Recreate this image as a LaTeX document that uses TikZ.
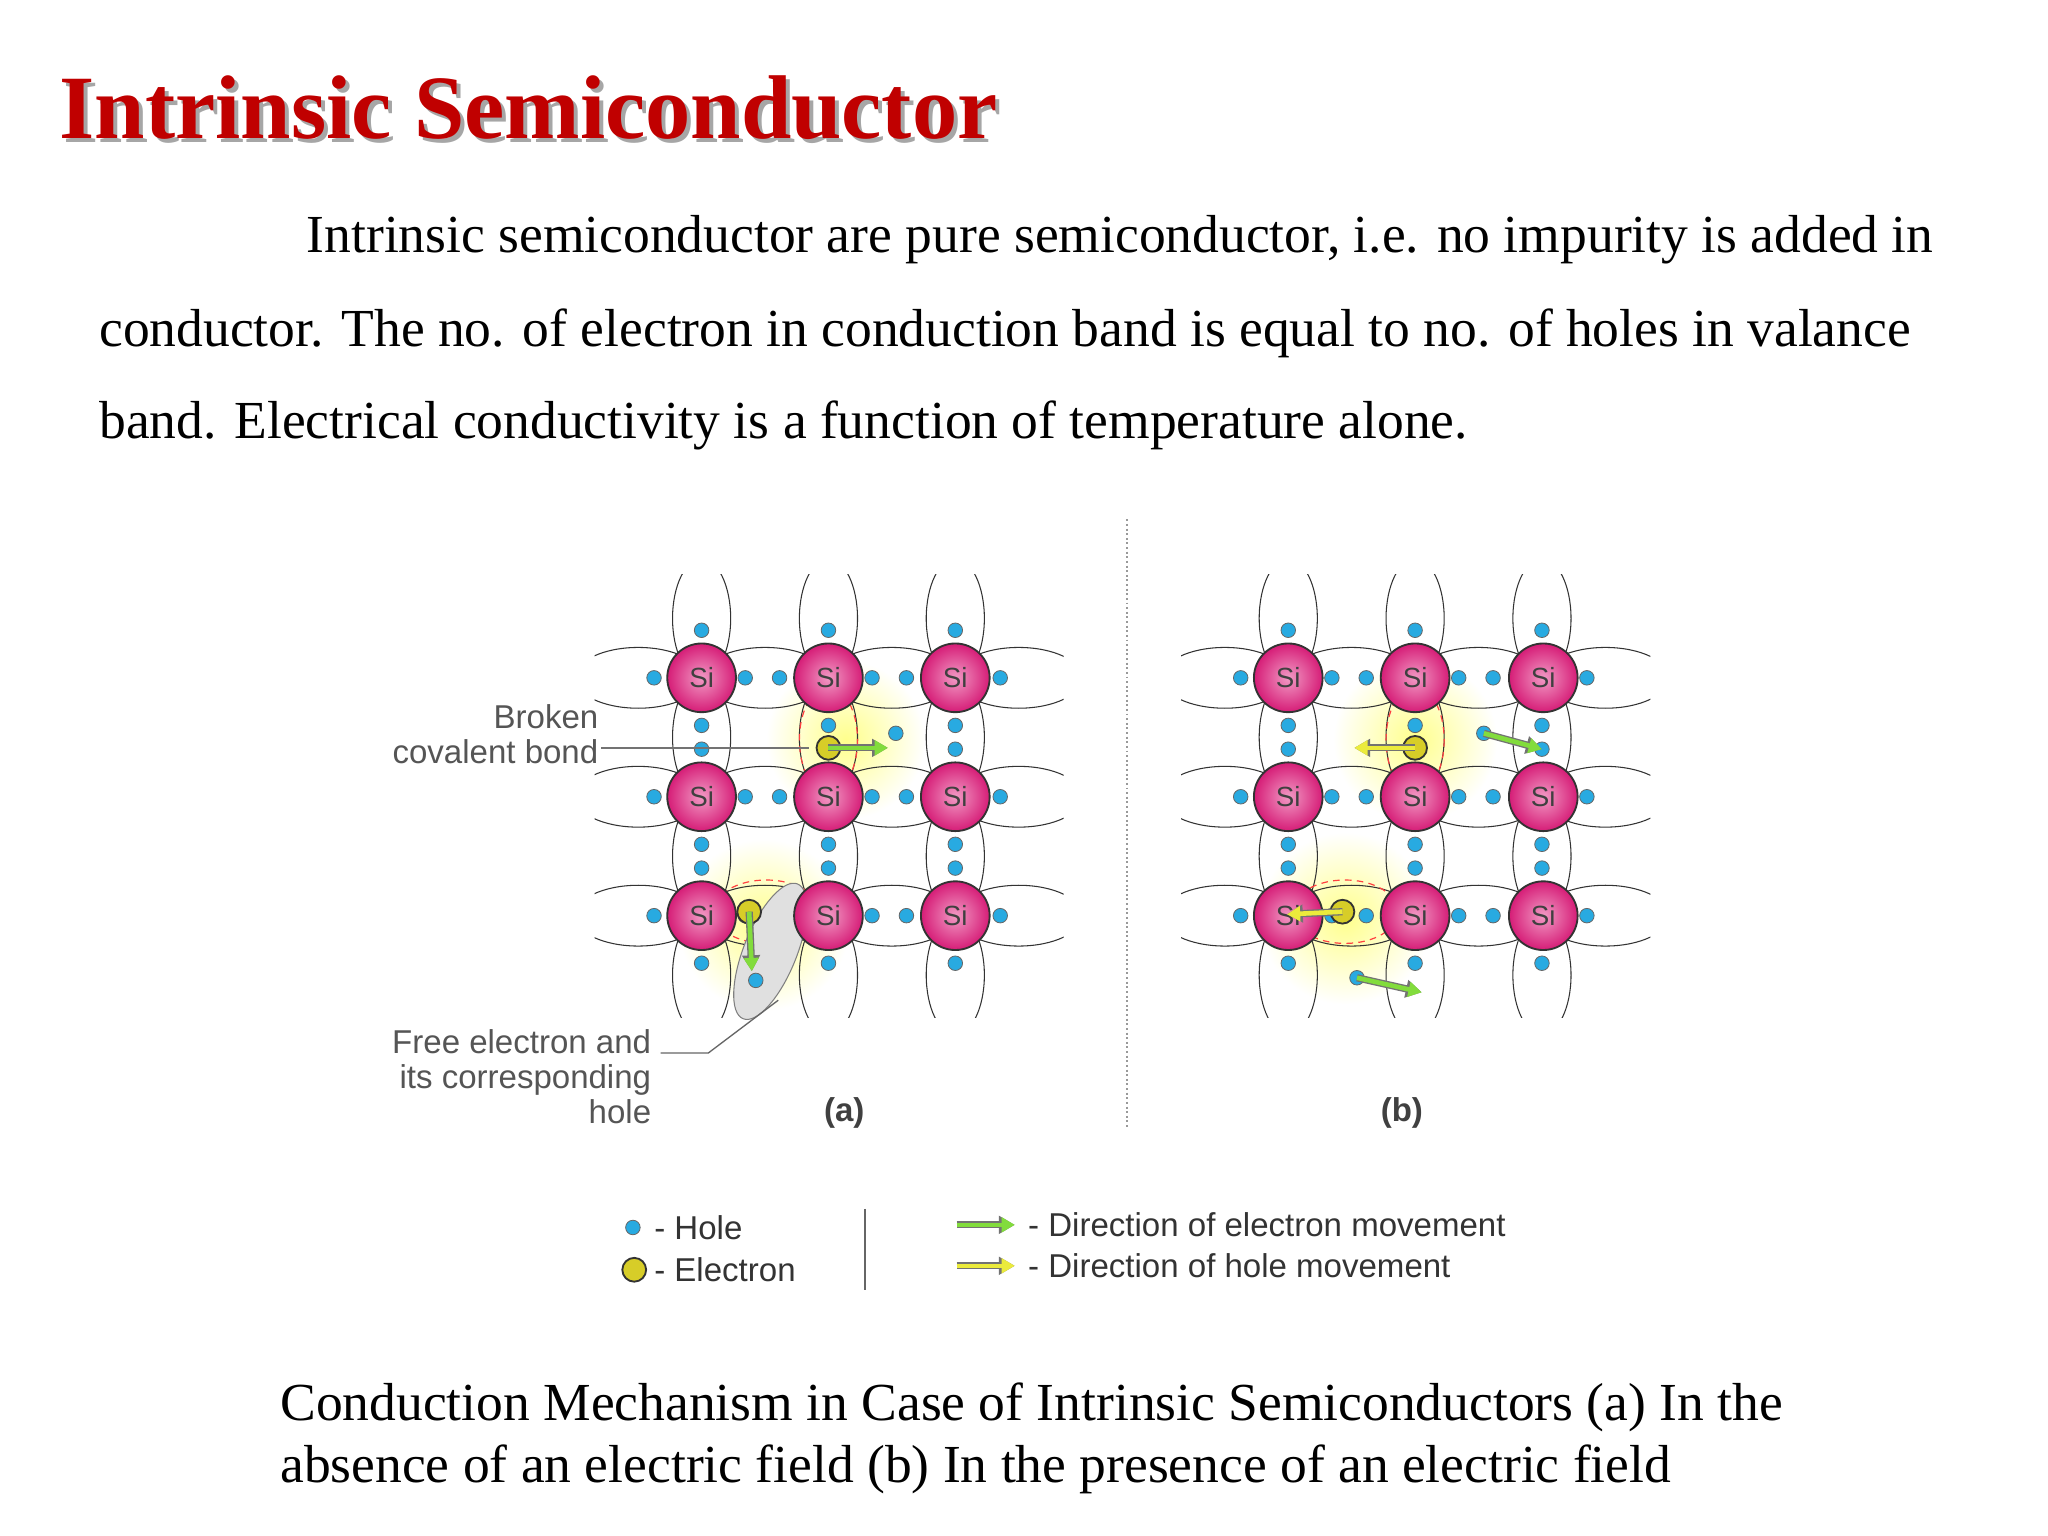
\documentclass[tikz,border=0pt]{standalone}
\usepackage{fontspec}
\setmainfont{Liberation Serif}
\setsansfont{Liberation Sans}
\usetikzlibrary{arrows.meta,shapes.geometric}
\definecolor{titlered}{RGB}{192,0,0}
\definecolor{holeblue}{RGB}{40,170,225}
\definecolor{elecyel}{RGB}{215,205,40}
\definecolor{sipink}{RGB}{225,30,125}
\definecolor{labgray}{RGB}{85,85,85}
\definecolor{egreen}{RGB}{130,220,60}
\definecolor{hyellow}{RGB}{235,235,60}
\tikzset{
  hole/.style={circle,draw=black!60,fill=holeblue,line width=0.6,minimum size=11,inner sep=0},
  elec/.style={circle,draw=black!80,fill=elecyel,line width=1.4,minimum size=18,inner sep=0},
  siatom/.style={circle,draw=black!80,line width=1.4,minimum size=52,inner sep=0,
    inner color=sipink!45!white,outer color=sipink!95!black,
    font=\sffamily\fontsize{21}{21}\selectfont,text=black!75},
  lobe/.style={draw=black!80,line width=0.8},
  garrow/.style={-{Triangle[length=10,width=11]},line width=3.5,egreen,
    preaction={draw=black!55,line width=5.5,-{Triangle[length=12,width=13]}}},
  yarrow/.style={-{Triangle[length=10,width=11]},line width=3.5,hyellow,
    preaction={draw=black!55,line width=5.5,-{Triangle[length=12,width=13]}}},
  glow/.style={inner color=yellow!45,outer color=white},
  reddash/.style={draw=red!75,dashed,line width=0.9,dash pattern=on 5pt off 4pt},
  lab/.style={font=\sffamily\fontsize{25}{26.5}\selectfont,text=labgray,align=right,inner sep=0},
  body/.style={font=\fontsize{40.5}{40.5}\selectfont,anchor=base west,inner sep=0},
}
\newcommand\mylattice{%
  \begin{scope}
    \clip (450,435) rectangle (805,770);
    \foreach \y in {513,603,693}{\foreach \x in {483,579,675,771}{\draw[lobe] (\x,\y) ellipse [x radius=48,y radius=23];}}
    \foreach \x in {531,627,723}{\foreach \y in {468,558,648,738}{\draw[lobe] (\x,\y) ellipse [x radius=22,y radius=45];}}
  \end{scope}
  \foreach \y in {513,603,693}{\foreach \x in {495,564,590,660,686,757}{\node[hole] at (\x,\y) {};}}
  \foreach \x in {531,627,723}{\foreach \y in {477,549,567,639,657,729}{\node[hole] at (\x,\y) {};}}
}
\begin{document}
\begin{tikzpicture}[x=1pt,y=-1pt]
\useasboundingbox[fill=white] (0,0) rectangle (1550,1162);
% title
\node[font=\bfseries\fontsize{68.5}{68.5}\selectfont,text=black!35,anchor=base west,inner sep=0] at (48,108) {Intrinsic Semiconductor};
\node[font=\bfseries\fontsize{68.5}{68.5}\selectfont,text=titlered,anchor=base west,inner sep=0] (title) at (45,105) {Intrinsic Semiconductor};
% body
\node[body] (l1) at (232,191) {Intrinsic semiconductor are pure semiconductor, i.e. no impurity is added in};
\node[body] (l2) at (75,262) {conductor. The no. of electron in conduction band is equal to no. of holes in valance};
\node[body] (l3) at (75,332) {band. Electrical conductivity is a function of temperature alone.};
% divider
\draw[black!40,dotted,line width=1.5] (853,393) -- (853,855);
% glows
\shade[glow] (640,560) circle (60);
\shade[glow] (578,700) circle (65);
\shade[glow] (1071,560) circle (62);
\shade[glow] (1018,695) circle (65);
% lattice a
\mylattice
\node[hole] at (678,555) {};
\draw[reddash] (627,560) ellipse [x radius=22,y radius=40];
\draw[reddash] (580,690) ellipse [x radius=40,y radius=24];
\draw[black!50,fill=black!12,rotate around={-22:(583,720)},line width=0.8] (583,720) ellipse [x radius=20,y radius=55];
\node[hole] at (572,742) {};
\node[elec] (ea1) at (627,566) {};
\coordinate (ta1) at (672,566);
\draw[garrow] (ea1.center) -- (ta1);
\node[elec] (ea2) at (567,690) {};
\coordinate (ta2) at (569,735);
\draw[garrow] (ea2.center) -- (ta2);
\foreach \x/\y in {531/513,627/513,723/513,531/603,627/603,723/603,531/693,627/693,723/693}{\node[siatom] at (\x,\y) {Si};}
% lattice b
\begin{scope}[shift={(444,0)}]
\mylattice
\end{scope}
\node[hole] (hb1) at (1123,555) {};
\coordinate (tb1) at (1167,567);
\draw[garrow] (hb1.center) -- (tb1);
\node[hole] (hb2) at (1027,740) {};
\coordinate (tb2) at (1076,751);
\draw[garrow] (hb2.center) -- (tb2);
\draw[reddash] (1071,560) ellipse [x radius=22,y radius=40];
\draw[reddash] (1018,690) ellipse [x radius=40,y radius=24];
\foreach \x/\y in {975/513,1071/513,1168/513,975/603,1071/603,1168/603,975/693,1071/693,1168/693}{\node[siatom] at (\x,\y) {Si};}
\node[elec] (eb1) at (1071,566) {};
\coordinate (sb1) at (1025,566);
\draw[yarrow] (eb1.center) -- (sb1);
\node[elec] (eb2) at (1016,690) {};
\coordinate (sb2) at (974,692);
\draw[yarrow] (eb2.center) -- (sb2);
% labels
\node[lab,anchor=north east] (lbroken) at (453,533) {Broken\\covalent bond};
\coordinate (pb) at (612,566);
\draw[black!55,line width=1] (455,566) -- (pb);
\node[lab,anchor=north east] (lfree) at (493,779) {Free electron and\\its corresponding\\hole};
\coordinate (pf1) at (500,797);
\coordinate (pf2) at (536,797);
\coordinate (pf3) at (589,757);
\draw[black!60,line width=1] (pf1) -- (pf2) -- (pf3);
\node[font=\sffamily\bfseries\fontsize{25}{25}\selectfont,text=black!75] (capa) at (639,842) {(a)};
\node[font=\sffamily\bfseries\fontsize{25}{25}\selectfont,text=black!75] (capb) at (1061,842) {(b)};
% legend
\node[hole] (lh) at (479,929) {};
\node[lab,anchor=west,text=black!80] at (495,929) {- Hole};
\node[elec] (le) at (480,961) {};
\node[lab,anchor=west,text=black!80] at (495,961) {- Electron};
\draw[black!60,line width=1.5] (655,915) -- (655,976);
\coordinate (lg1) at (724,927); \coordinate (lg2) at (768,927);
\draw[garrow] (lg1) -- (lg2);
\node[lab,anchor=west,text=black!80] at (778,927) {- Direction of electron movement};
\coordinate (ly1) at (724,958); \coordinate (ly2) at (768,958);
\draw[yarrow] (ly1) -- (ly2);
\node[lab,anchor=west,text=black!80] at (778,958) {- Direction of hole movement};
% caption
\node[body] (c1) at (212,1075) {Conduction Mechanism in Case of Intrinsic Semiconductors (a) In the};
\node[body] (c2) at (212,1122) {absence of an electric field (b) In the presence of an electric field};
\end{tikzpicture}
\end{document}
